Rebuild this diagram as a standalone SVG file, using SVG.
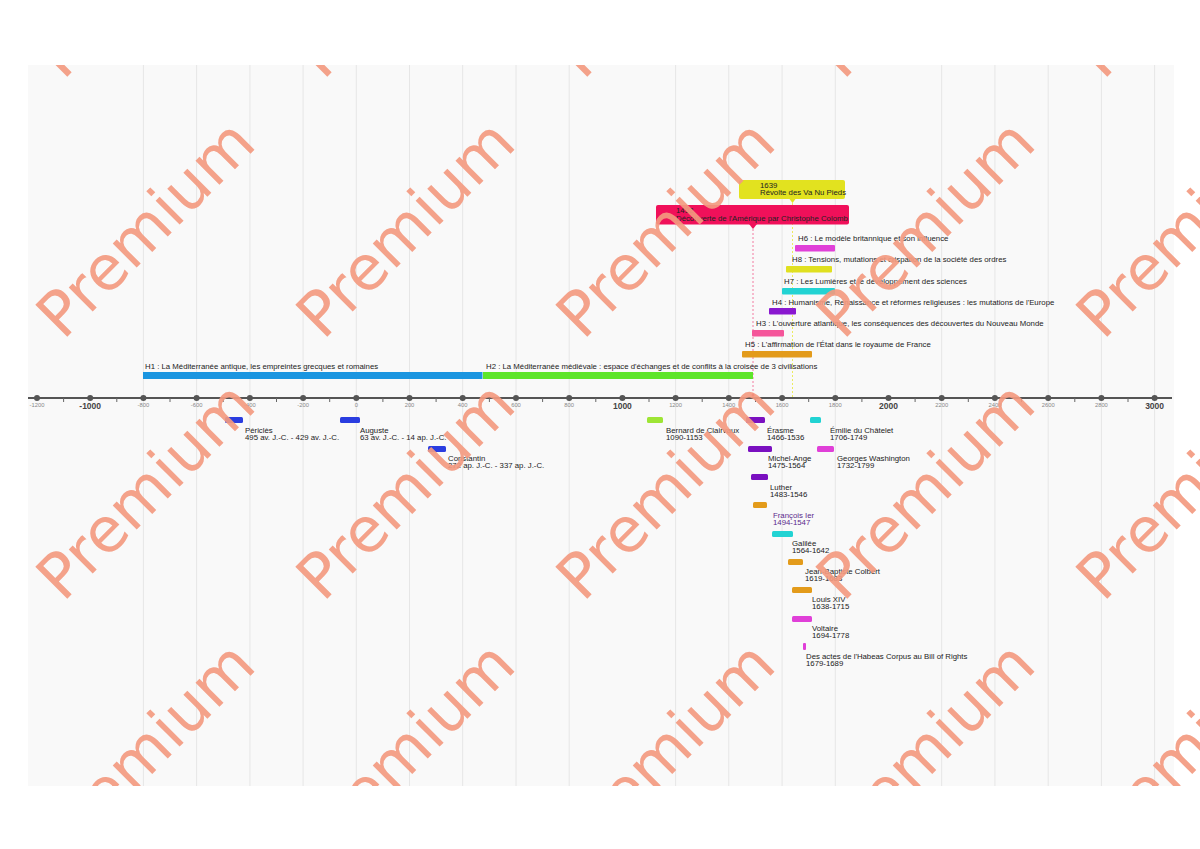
<svg xmlns="http://www.w3.org/2000/svg" width="1200" height="849" viewBox="0 0 1200 849">
<defs>
<style>
.t{font-family:"Liberation Sans",Arial,sans-serif;font-size:7.8px;fill:#222}
.tick{font-family:"Liberation Sans",Arial,sans-serif;font-size:5.8px;fill:#888;text-anchor:middle}
.major{font-family:"Liberation Sans",Arial,sans-serif;font-size:8.5px;fill:#444;text-anchor:middle;font-weight:bold}
.grid{stroke:#e6e6e6;stroke-width:1}
.dot{fill:#555}
.minor{stroke:#666;stroke-width:1}
.wm{font-family:"DejaVu Sans",sans-serif;font-size:62px;fill:#f39a80}
.blue{fill:#2a3de0}.purple{fill:#7a10c0}.orange{fill:#e39b1b}.cyan{fill:#22d3d3}.magenta{fill:#e040d8}.lime{fill:#9ee535}
</style>
<clipPath id="page"><rect x="0" y="65" width="1200" height="721"/></clipPath>
</defs>
<rect width="1200" height="849" fill="#ffffff"/>
<rect x="28" y="65" width="1146" height="721" fill="#f9f9f9"/>

<g id="grid">
<line class="grid" x1="143.4" y1="65" x2="143.4" y2="786"/>
<line class="grid" x1="196.6" y1="65" x2="196.6" y2="786"/>
<line class="grid" x1="249.9" y1="65" x2="249.9" y2="786"/>
<line class="grid" x1="303.1" y1="65" x2="303.1" y2="786"/>
<line class="grid" x1="356.3" y1="65" x2="356.3" y2="786"/>
<line class="grid" x1="409.5" y1="65" x2="409.5" y2="786"/>
<line class="grid" x1="462.7" y1="65" x2="462.7" y2="786"/>
<line class="grid" x1="516" y1="65" x2="516" y2="786"/>
<line class="grid" x1="569.2" y1="65" x2="569.2" y2="786"/>
<line class="grid" x1="675.6" y1="65" x2="675.6" y2="786"/>
<line class="grid" x1="728.8" y1="65" x2="728.8" y2="786"/>
<line class="grid" x1="782.1" y1="65" x2="782.1" y2="786"/>
<line class="grid" x1="835.3" y1="65" x2="835.3" y2="786"/>
<line class="grid" x1="941.7" y1="65" x2="941.7" y2="786"/>
<line class="grid" x1="994.9" y1="65" x2="994.9" y2="786"/>
<line class="grid" x1="1048.2" y1="65" x2="1048.2" y2="786"/>
<line class="grid" x1="1101.4" y1="65" x2="1101.4" y2="786"/>
<line class="grid" x1="1154.6" y1="65" x2="1154.6" y2="786"/>
</g>

<g id="connectors">
<line x1="753" y1="229" x2="753" y2="398" stroke="#f27aa0" stroke-width="1" stroke-dasharray="2,2"/>
<line x1="792.5" y1="203" x2="792.5" y2="398" stroke="#ecec60" stroke-width="1" stroke-dasharray="2,2"/>
</g>

<g id="axis">
<line x1="28" y1="398" x2="1172" y2="398" stroke="#555" stroke-width="2"/>
<g class="minor">
<line x1="63.6" y1="398" x2="63.6" y2="402"/><line x1="116.8" y1="398" x2="116.8" y2="402"/><line x1="170" y1="398" x2="170" y2="402"/><line x1="223.2" y1="398" x2="223.2" y2="402"/><line x1="276.5" y1="398" x2="276.5" y2="402"/><line x1="329.7" y1="398" x2="329.7" y2="402"/><line x1="382.9" y1="398" x2="382.9" y2="402"/><line x1="436.1" y1="398" x2="436.1" y2="402"/><line x1="489.4" y1="398" x2="489.4" y2="402"/><line x1="542.6" y1="398" x2="542.6" y2="402"/><line x1="595.8" y1="398" x2="595.8" y2="402"/><line x1="649" y1="398" x2="649" y2="402"/><line x1="702.2" y1="398" x2="702.2" y2="402"/><line x1="755.5" y1="398" x2="755.5" y2="402"/><line x1="808.7" y1="398" x2="808.7" y2="402"/><line x1="861.9" y1="398" x2="861.9" y2="402"/><line x1="915.1" y1="398" x2="915.1" y2="402"/><line x1="968.3" y1="398" x2="968.3" y2="402"/><line x1="1021.5" y1="398" x2="1021.5" y2="402"/><line x1="1074.8" y1="398" x2="1074.8" y2="402"/><line x1="1128" y1="398" x2="1128" y2="402"/>
</g>
<g class="dot">
<circle cx="37" cy="398" r="3"/><circle cx="90.2" cy="398" r="3"/><circle cx="143.4" cy="398" r="3"/><circle cx="196.6" cy="398" r="3"/><circle cx="249.9" cy="398" r="3"/><circle cx="303.1" cy="398" r="3"/><circle cx="356.3" cy="398" r="3"/><circle cx="409.5" cy="398" r="3"/><circle cx="462.7" cy="398" r="3"/><circle cx="516" cy="398" r="3"/><circle cx="569.2" cy="398" r="3"/><circle cx="622.4" cy="398" r="3"/><circle cx="675.6" cy="398" r="3"/><circle cx="728.8" cy="398" r="3"/><circle cx="782.1" cy="398" r="3"/><circle cx="835.3" cy="398" r="3"/><circle cx="888.5" cy="398" r="3"/><circle cx="941.7" cy="398" r="3"/><circle cx="994.9" cy="398" r="3"/><circle cx="1048.2" cy="398" r="3"/><circle cx="1101.4" cy="398" r="3"/><circle cx="1154.6" cy="398" r="3"/>
</g>
<circle cx="753" cy="395" r="1.5" fill="#f0105a"/>
<text class="tick" x="37" y="407">-1200</text>
<text class="major" x="90.2" y="409">-1000</text>
<text class="tick" x="143.4" y="407">-800</text>
<text class="tick" x="196.6" y="407">-600</text>
<text class="tick" x="249.9" y="407">-400</text>
<text class="tick" x="303.1" y="407">-200</text>
<text class="tick" x="356.3" y="407">0</text>
<text class="tick" x="409.5" y="407">200</text>
<text class="tick" x="462.7" y="407">400</text>
<text class="tick" x="516" y="407">600</text>
<text class="tick" x="569.2" y="407">800</text>
<text class="major" x="622.4" y="409">1000</text>
<text class="tick" x="675.6" y="407">1200</text>
<text class="tick" x="728.8" y="407">1400</text>
<text class="tick" x="782.1" y="407">1600</text>
<text class="tick" x="835.3" y="407">1800</text>
<text class="major" x="888.5" y="409">2000</text>
<text class="tick" x="941.7" y="407">2200</text>
<text class="tick" x="994.9" y="407">2400</text>
<text class="tick" x="1048.2" y="407">2600</text>
<text class="tick" x="1101.4" y="407">2800</text>
<text class="major" x="1154.6" y="409">3000</text>
</g>

<g id="period-H1"><rect x="143" y="372" width="339.5" height="7" fill="#1a95e0"/><text class="t" x="145" y="368.5">H1 : La Méditerranée antique, les empreintes grecques et romaines</text></g>
<g id="period-H2"><rect x="483" y="372" width="270" height="7" fill="#5de52a"/><text class="t" x="486" y="368.5">H2 : La Méditerranée médiévale : espace d'échanges et de conflits à la croisée de 3 civilisations</text></g>
<g id="period-H5"><rect x="742" y="351" width="70" height="6.5" rx="1" class="orange"/><text class="t" x="745" y="347">H5 : L'affirmation de l'État dans le royaume de France</text></g>
<g id="period-H3"><rect x="752" y="330" width="32" height="6.5" rx="1" fill="#f5559a"/><text class="t" x="756" y="326">H3 : L'ouverture atlantique, les conséquences des découvertes du Nouveau Monde</text></g>
<g id="period-H4"><rect x="769" y="308" width="27" height="6.5" rx="1" fill="#8a18d0"/><text class="t" x="772" y="304.5">H4 : Humanisme, Renaissance et réformes religieuses : les mutations de l'Europe</text></g>
<g id="period-H7"><rect x="782" y="288" width="53" height="6.5" rx="1" class="cyan"/><text class="t" x="784" y="283.5">H7 : Les Lumières et le développement des sciences</text></g>
<g id="period-H8"><rect x="786" y="266" width="46" height="6.5" rx="1" fill="#e0e020"/><text class="t" x="792" y="261.5">H8 : Tensions, mutations et crispation de la société des ordres</text></g>
<g id="period-H6"><rect x="795" y="245" width="40" height="6.5" rx="1" class="magenta"/><text class="t" x="798" y="240.5">H6 : Le modèle britannique et son influence</text></g>

<g id="event-1639">
<rect x="739" y="180" width="106" height="19" rx="2" fill="#e2e21f"/>
<path d="M789.5,199 L792.5,203 L795.5,199 Z" fill="#e2e21f"/>
<text class="t" x="760" y="188">1639</text>
<text class="t" x="760" y="195">Révolte des Va Nu Pieds</text>
</g>
<g id="event-1492">
<rect x="656" y="205" width="193" height="19.5" rx="2" fill="#f0105a"/>
<path d="M749,224 L753,229 L757,224 Z" fill="#f0105a"/>
<text class="t" x="676" y="213">1492</text>
<text class="t" x="676" y="220.5">Découverte de l'Amérique par Christophe Colomb</text>
</g>

<g id="p-pericles"><rect x="225" y="417" width="18" height="6" rx="1.5" class="blue"/><text class="t" x="245" y="432.5">Périclès</text><text class="t" x="245" y="439.5">495 av. J.-C. - 429 av. J.-C.</text></g>
<g id="p-auguste"><rect x="340" y="417" width="20" height="6" rx="1.5" class="blue"/><text class="t" x="360" y="432.5">Auguste</text><text class="t" x="360" y="439.5">63 av. J.-C. - 14 ap. J.-C.</text></g>
<g id="p-constantin"><rect x="428" y="446" width="18" height="6" rx="1.5" class="blue"/><text class="t" x="448" y="460.5">Constantin</text><text class="t" x="448" y="467.5">272 ap. J.-C. - 337 ap. J.-C.</text></g>
<g id="p-bernard"><rect x="647" y="417" width="16" height="6" rx="1.5" class="lime"/><text class="t" x="666" y="432.5">Bernard de Clairvaux</text><text class="t" x="666" y="439.5">1090-1153</text></g>
<g id="p-erasme"><rect x="746" y="417" width="19" height="6" rx="1.5" class="purple"/><text class="t" x="767" y="432.5">Érasme</text><text class="t" x="767" y="439.5">1466-1536</text></g>
<g id="p-chatelet"><rect x="810" y="417" width="11" height="6" rx="1.5" class="cyan"/><text class="t" x="830" y="432.5">Émilie du Châtelet</text><text class="t" x="830" y="439.5">1706-1749</text></g>
<g id="p-michelange"><rect x="748" y="446" width="24" height="6" rx="1.5" class="purple"/><text class="t" x="768" y="460.5">Michel-Ange</text><text class="t" x="768" y="467.5">1475-1564</text></g>
<g id="p-washington"><rect x="817" y="446" width="17" height="6" rx="1.5" class="magenta"/><text class="t" x="837" y="460.5">Georges Washington</text><text class="t" x="837" y="467.5">1732-1799</text></g>
<g id="p-luther"><rect x="751" y="474" width="17" height="6" rx="1.5" class="purple"/><text class="t" x="770" y="489.5">Luther</text><text class="t" x="770" y="496.5">1483-1546</text></g>
<g id="p-francois"><rect x="753" y="502" width="14" height="6" rx="1.5" class="orange"/><text class="t" x="773" y="517.5" style="fill:#5b2a8c">François Ier</text><text class="t" x="773" y="524.5" style="fill:#5b2a8c">1494-1547</text></g>
<g id="p-galilee"><rect x="772" y="531" width="21" height="6" rx="1.5" class="cyan"/><text class="t" x="792" y="545.5">Galilée</text><text class="t" x="792" y="552.5">1564-1642</text></g>
<g id="p-colbert"><rect x="788" y="559" width="15" height="6" rx="1.5" class="orange"/><text class="t" x="805" y="574">Jean-Baptiste Colbert</text><text class="t" x="805" y="581">1619-1683</text></g>
<g id="p-louis14"><rect x="792" y="587" width="20" height="6" rx="1.5" class="orange"/><text class="t" x="812" y="602">Louis XIV</text><text class="t" x="812" y="609">1638-1715</text></g>
<g id="p-voltaire"><rect x="792" y="616" width="20" height="6" rx="1.5" class="magenta"/><text class="t" x="812" y="630.5">Voltaire</text><text class="t" x="812" y="637.5">1694-1778</text></g>
<g id="p-habeas"><rect x="803" y="643" width="3" height="7" rx="1" class="magenta"/><text class="t" x="806" y="659">Des actes de l'Habeas Corpus au Bill of Rights</text><text class="t" x="806" y="666">1679-1689</text></g>

<g id="watermark" clip-path="url(#page)" opacity="0.92">
<text class="wm" text-anchor="middle" transform="translate(145,-32) rotate(-45)" dy="22">Premium</text>
<text class="wm" text-anchor="middle" transform="translate(405,-32) rotate(-45)" dy="22">Premium</text>
<text class="wm" text-anchor="middle" transform="translate(665,-32) rotate(-45)" dy="22">Premium</text>
<text class="wm" text-anchor="middle" transform="translate(925,-32) rotate(-45)" dy="22">Premium</text>
<text class="wm" text-anchor="middle" transform="translate(1185,-32) rotate(-45)" dy="22">Premium</text>
<text class="wm" text-anchor="middle" transform="translate(145,228) rotate(-45)" dy="22">Premium</text>
<text class="wm" text-anchor="middle" transform="translate(405,228) rotate(-45)" dy="22">Premium</text>
<text class="wm" text-anchor="middle" transform="translate(665,228) rotate(-45)" dy="22">Premium</text>
<text class="wm" text-anchor="middle" transform="translate(925,228) rotate(-45)" dy="22">Premium</text>
<text class="wm" text-anchor="middle" transform="translate(1185,228) rotate(-45)" dy="22">Premium</text>
<text class="wm" text-anchor="middle" transform="translate(145,490) rotate(-45)" dy="22">Premium</text>
<text class="wm" text-anchor="middle" transform="translate(405,490) rotate(-45)" dy="22">Premium</text>
<text class="wm" text-anchor="middle" transform="translate(665,490) rotate(-45)" dy="22">Premium</text>
<text class="wm" text-anchor="middle" transform="translate(925,490) rotate(-45)" dy="22">Premium</text>
<text class="wm" text-anchor="middle" transform="translate(1185,490) rotate(-45)" dy="22">Premium</text>
<text class="wm" text-anchor="middle" transform="translate(145,750) rotate(-45)" dy="22">Premium</text>
<text class="wm" text-anchor="middle" transform="translate(405,750) rotate(-45)" dy="22">Premium</text>
<text class="wm" text-anchor="middle" transform="translate(665,750) rotate(-45)" dy="22">Premium</text>
<text class="wm" text-anchor="middle" transform="translate(925,750) rotate(-45)" dy="22">Premium</text>
<text class="wm" text-anchor="middle" transform="translate(1185,750) rotate(-45)" dy="22">Premium</text>
</g>
</svg>
